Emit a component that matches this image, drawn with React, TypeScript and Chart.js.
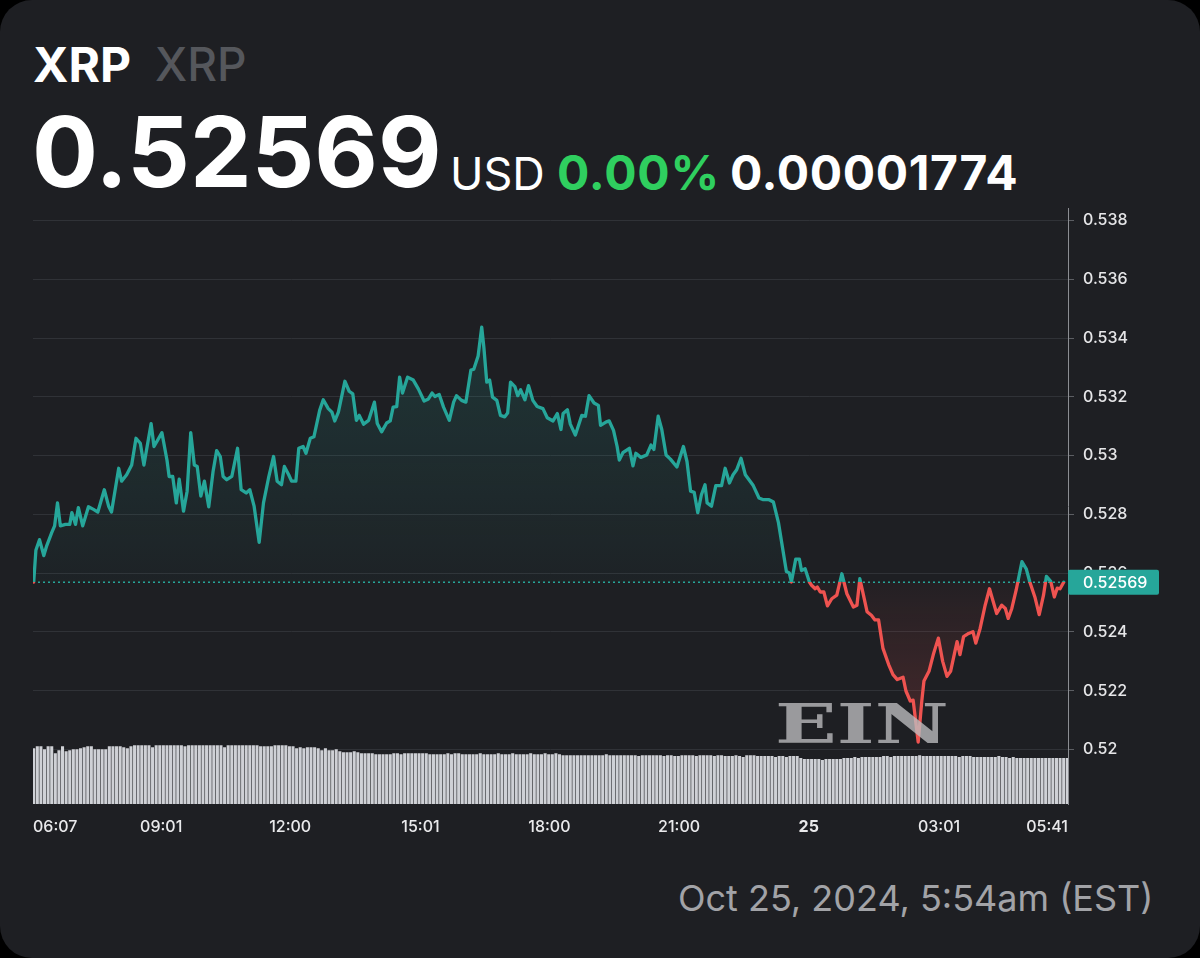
import { useEffect, useRef } from "react";
import { Chart, registerables } from "chart.js";

Chart.register(...registerables);

// ---- data (x = minutes since Oct 24 00:00, EST) ----
const TIMES = [
  364, 367, 372, 378, 382, 389, 393, 397, 401, 408, 414, 417, 422, 426, 432, 440, 447, 453, 462, 468,
  472, 482, 486, 493, 500, 506, 512, 517, 527, 531, 542, 549, 552, 557, 562, 566, 572, 577, 582, 587,
  591, 596, 601, 607, 613, 618, 623, 627, 632, 639, 647, 652, 659, 664, 670, 677, 683, 690, 697, 702,
  708, 712, 718, 722, 728, 732, 738, 742, 748, 753, 761, 766, 773, 778, 782, 787, 796, 802, 807, 812,
  816, 822, 829, 837, 841, 847, 854, 859, 863, 868, 872, 876, 883, 891, 898, 906, 912, 917, 921, 927,
  933, 941, 947, 951, 958, 964, 971, 975, 981, 986, 989, 993, 997, 1001, 1007, 1012, 1018, 1022, 1026, 1032,
  1036, 1040, 1046, 1051, 1057, 1063, 1071, 1077, 1085, 1091, 1096, 1099, 1105, 1109, 1116, 1125, 1130, 1135, 1142, 1148,
  1151, 1159, 1163, 1169, 1174, 1177, 1182, 1191, 1196, 1200, 1207, 1215, 1221, 1225, 1231, 1236, 1242, 1248, 1257, 1266,
  1271, 1276, 1281, 1286, 1291, 1296, 1299, 1305, 1311, 1319, 1324, 1330, 1335, 1340, 1346, 1352, 1363, 1371, 1377, 1385,
  1391, 1398, 1409, 1413, 1416, 1422, 1427, 1430, 1435, 1441, 1444, 1449, 1452, 1456, 1461, 1466, 1472, 1479, 1486, 1493,
  1502, 1507, 1511, 1516, 1521, 1527, 1532, 1537, 1543, 1551, 1557, 1563, 1571, 1575, 1581, 1585, 1592, 1597, 1600, 1607,
  1613, 1620, 1626, 1632, 1637, 1643, 1646, 1650, 1655, 1662, 1668, 1672, 1678, 1685, 1691, 1695, 1701, 1708, 1713, 1717,
  1722, 1728, 1736, 1742, 1747, 1754, 1760, 1766, 1770, 1776, 1781, 1785, 1789, 1794,
];

const PRICES = [
  0.5257, 0.52678, 0.52714, 0.5266, 0.52693, 0.52738, 0.52761, 0.52839, 0.52761, 0.52766, 0.52766, 0.52806, 0.52766, 0.52823, 0.52761, 0.52826, 0.52817, 0.52808, 0.52884, 0.52828,
  0.52808, 0.52957, 0.52913, 0.52935, 0.52968, 0.53059, 0.53042, 0.52968, 0.53109, 0.53031, 0.53078, 0.52985, 0.52929, 0.52929, 0.52839, 0.5292, 0.52811, 0.52879, 0.53078, 0.52968,
  0.52963, 0.52862, 0.52913, 0.52826, 0.52946, 0.53017, 0.52997, 0.52929, 0.52918, 0.52929, 0.53025, 0.52884, 0.52873, 0.52884, 0.52828, 0.52705, 0.52839, 0.52924, 0.52997, 0.52913,
  0.52901, 0.52963, 0.52935, 0.52913, 0.52913, 0.53025, 0.53031, 0.53008, 0.53059, 0.53064, 0.53154, 0.5319, 0.5316, 0.53148, 0.53118, 0.53148, 0.53253, 0.53219, 0.5321, 0.5312,
  0.53137, 0.53107, 0.5312, 0.53182, 0.53109, 0.53081, 0.53111, 0.53118, 0.53165, 0.53167, 0.53267, 0.53213, 0.53267, 0.53257, 0.53227, 0.53186, 0.53193, 0.53213, 0.53201, 0.53208,
  0.53165, 0.5312, 0.53182, 0.53204, 0.53188, 0.53182, 0.53291, 0.53294, 0.53339, 0.53437, 0.53368, 0.5325, 0.53257, 0.53199, 0.53188, 0.53137, 0.53132, 0.53145, 0.5325, 0.53235,
  0.53204, 0.53224, 0.5319, 0.53238, 0.53188, 0.53167, 0.5316, 0.53129, 0.53118, 0.53143, 0.53089, 0.53143, 0.53156, 0.53107, 0.5307, 0.53137, 0.53134, 0.53204, 0.53179, 0.53171,
  0.53103, 0.53115, 0.53118, 0.53086, 0.53031, 0.52985, 0.5301, 0.53025, 0.52965, 0.53008, 0.52994, 0.53002, 0.53036, 0.53021, 0.53134, 0.53089, 0.53002, 0.52988, 0.52961, 0.53031,
  0.5298, 0.52879, 0.52875, 0.52806, 0.52867, 0.52901, 0.52839, 0.52828, 0.52898, 0.52898, 0.52957, 0.52907, 0.52935, 0.52952, 0.52991, 0.52935, 0.52898, 0.52856, 0.5285, 0.5285,
  0.52842, 0.52772, 0.52606, 0.52601, 0.5257, 0.52648, 0.52648, 0.52609, 0.52615, 0.5257, 0.52559, 0.52547, 0.52553, 0.52536, 0.52536, 0.52489, 0.52513, 0.52525, 0.52598, 0.5253,
  0.52485, 0.52491, 0.52581, 0.52525, 0.52469, 0.52457, 0.52441, 0.52441, 0.52345, 0.52289, 0.52255, 0.52238, 0.52246, 0.52199, 0.52165, 0.52168, 0.52025, 0.52165, 0.52233, 0.52266,
  0.52323, 0.52379, 0.523, 0.52249, 0.52266, 0.52334, 0.52367, 0.52323, 0.52384, 0.52395, 0.52401, 0.52362, 0.52412, 0.52491, 0.52547, 0.52513, 0.52463, 0.52491, 0.5248, 0.52446,
  0.5248, 0.52542, 0.52639, 0.52615, 0.5257, 0.52519, 0.52459, 0.52525, 0.52589, 0.52572, 0.52519, 0.52549, 0.52547, 0.52569,
];

// 5-minute volume bars (relative units)
const VOL_START = 364;
const VOL_STEP = 5;
const VOLUMES = [
  56, 58, 58, 55, 58, 58, 51, 54, 58, 53, 54, 55,
  55, 56, 57, 58, 58, 55, 55, 55, 55, 58, 58, 58,
  58, 57, 56, 58, 59, 59, 59, 59, 59, 57, 59, 59,
  59, 59, 59, 59, 59, 59, 58, 59, 59, 59, 59, 59,
  59, 59, 59, 59, 59, 57, 59, 59, 59, 59, 59, 59,
  59, 59, 59, 58, 58, 58, 58, 59, 59, 59, 59, 58,
  58, 56, 57, 56, 57, 57, 57, 56, 54, 56, 54, 54,
  55, 53, 52, 52, 52, 53, 52, 51, 51, 51, 51, 50,
  50, 50, 50, 50, 51, 51, 50, 51, 51, 51, 51, 51,
  51, 51, 50, 50, 50, 50, 50, 51, 50, 51, 51, 50,
  50, 50, 50, 50, 51, 50, 50, 50, 50, 51, 50, 50,
  50, 51, 50, 50, 50, 50, 51, 50, 50, 50, 51, 50,
  50, 51, 50, 49, 49, 49, 49, 49, 49, 49, 49, 49,
  49, 49, 49, 50, 49, 49, 49, 49, 49, 49, 49, 49,
  48, 49, 49, 49, 49, 49, 49, 48, 49, 49, 48, 48,
  49, 49, 49, 49, 48, 49, 49, 49, 49, 48, 49, 49,
  48, 48, 48, 49, 48, 47, 49, 49, 49, 48, 48, 48,
  48, 48, 47, 48, 48, 47, 48, 48, 48, 46, 45, 45,
  45, 45, 45, 44, 45, 45, 45, 45, 45, 46, 46, 46,
  47, 46, 47, 47, 47, 47, 47, 47, 48, 48, 47, 48,
  48, 48, 48, 48, 48, 48, 49, 48, 48, 48, 48, 48,
  48, 48, 48, 48, 48, 47, 48, 48, 48, 47, 47, 47,
  47, 47, 47, 47, 48, 47, 47, 46, 47, 46, 46, 46,
  46, 46, 46, 46, 46, 46, 46, 46, 46, 46, 46, 46,
];

const BASE = 0.52569;
const Y_TICKS = [0.52, 0.522, 0.524, 0.526, 0.528, 0.53, 0.532, 0.534, 0.536, 0.538];
const X_TICKS = [367, 541, 720, 901, 1080, 1260, 1440, 1621, 1781];
const X_LABELS = ["06:07", "09:01", "12:00", "15:01", "18:00", "21:00", "25", "03:01", "05:41"];

const BG = "#1e1f23";
const TEAL = "rgba(38,166,154,1)";
const RED = "rgba(239,83,80,1)";
const FONT = "Inter, 'Noto Sans', sans-serif";

const overlayPlugin = {
  id: "overlay",
  afterDraw(chart: any) {
    const { ctx, chartArea, scales } = chart;
    const xs = scales.x;
    ctx.save();
    ctx.textBaseline = "middle";
    ctx.textAlign = "left";
    X_TICKS.forEach((t, i) => {
      const label = X_LABELS[i];
      ctx.font = `${label === "25" ? 700 : 500} 16px ${FONT}`;
      const w = ctx.measureText(label).width;
      let left = xs.getPixelForValue(t) - w / 2;
      left = Math.max(chartArea.left, Math.min(left, chartArea.right - w));
      ctx.fillStyle = "#e9e9eb";
      ctx.fillText(label, left, chartArea.bottom + 23);
    });
    const y = scales.y.getPixelForValue(BASE);
    ctx.fillStyle = TEAL;
    ctx.beginPath();
    ctx.roundRect(chartArea.right, y - 12.5, 91, 25, 2);
    ctx.fill();
    ctx.fillStyle = "#ffffff";
    ctx.font = `500 16px ${FONT}`;
    ctx.fillText(BASE.toFixed(5), chartArea.right + 15, y + 1);
    ctx.restore();
  },
};

function splitColor(ctx: any) {
  const chart = ctx.chart;
  const { chartArea, scales } = chart;
  if (!chartArea) return TEAL;
  const y = scales.y.getPixelForValue(BASE);
  let r = (y - chartArea.top) / (chartArea.bottom - chartArea.top);
  r = Math.min(1, Math.max(0, r));
  const g = chart.ctx.createLinearGradient(0, chartArea.top, 0, chartArea.bottom);
  g.addColorStop(0, TEAL);
  g.addColorStop(r, TEAL);
  g.addColorStop(r, RED);
  g.addColorStop(1, RED);
  return g;
}

function PriceChart() {
  const ref = useRef<HTMLCanvasElement | null>(null);
  useEffect(() => {
    if (!ref.current) return;
    Chart.defaults.font.family = FONT;
    const chart = new Chart(ref.current, {
      type: "line",
      data: {
        datasets: [
          {
            type: "line",
            label: "XRP",
            data: TIMES.map((t, i) => ({ x: t, y: PRICES[i] })),
            borderColor: splitColor,
            borderWidth: 3.3,
            borderJoinStyle: "round",
            borderCapStyle: "round",
            pointRadius: 0,
            tension: 0,
            fill: false,
            order: 0,
            yAxisID: "y",
          },
          {
            type: "line",
            label: "base",
            data: [
              { x: 363, y: BASE },
              { x: 1800, y: BASE },
            ],
            borderColor: TEAL,
            borderWidth: 1.5,
            borderDash: [2, 3],
            pointRadius: 0,
            fill: false,
            order: 1,
            yAxisID: "y",
          },
          {
            type: "bar",
            label: "volume",
            data: VOLUMES.map((v, i) => ({ x: VOL_START + i * VOL_STEP, y: v })),
            backgroundColor: "#cfd1d6",
            barThickness: 2.4,
            order: 2,
            yAxisID: "yv",
          },
        ] as any,
      },
      options: {
        responsive: false,
        animation: false,
        parsing: true,
        layout: { padding: { left: 33, top: 13, right: 0, bottom: 46 } },
        plugins: { legend: { display: false }, tooltip: { enabled: false } },
        scales: {
          x: {
            type: "linear",
            min: 363,
            max: 1800,
            display: false,
            offset: false,
          },
          y: {
            type: "linear",
            position: "right",
            min: 0.518146,
            max: 0.538405,
            afterBuildTicks: (axis: any) => {
              axis.ticks = Y_TICKS.map((v) => ({ value: v }));
            },
            afterFit: (axis: any) => {
              axis.width = 132;
            },
            grid: {
              color: "#303237",
              lineWidth: 1,
              tickLength: 6,
              tickColor: "#5c5e63",
            },
            border: { display: true, color: "#8b8d92", width: 1 },
            ticks: {
              autoSkip: false,
              padding: 9,
              color: "#e6e6e8",
              font: { size: 16, weight: 500 },
              callback: (v: any) => String(parseFloat(Number(v).toFixed(3))),
            },
          },
          yv: {
            type: "linear",
            display: false,
            min: 0,
            max: 601,
          },
        },
      } as any,
      plugins: [overlayPlugin],
    });
    const area = chart.chartArea;
    const yb = chart.scales.y.getPixelForValue(BASE);
    const c = chart.ctx;
    const above = c.createLinearGradient(0, area.top + 100, 0, yb);
    above.addColorStop(0, "rgba(38,166,154,0.18)");
    above.addColorStop(1, "rgba(38,166,154,0.03)");
    const below = c.createLinearGradient(0, yb, 0, area.bottom - 60);
    below.addColorStop(0, "rgba(239,83,80,0.03)");
    below.addColorStop(1, "rgba(239,83,80,0.2)");
    (chart.data.datasets[0] as any).fill = { target: { value: BASE }, above, below };
    chart.update();
    return () => chart.destroy();
  }, []);
  return (
    <canvas
      ref={ref}
      width={1200}
      height={660}
      style={{ position: "absolute", left: 0, top: 190, width: 1200, height: 660 }}
    />
  );
}

function Txt(props: {
  left: number;
  top: number;
  size: number;
  weight: number;
  color: string;
  spacing?: number;
  children: string;
}) {
  return (
    <div
      style={{
        position: "absolute",
        left: props.left,
        top: props.top,
        fontSize: props.size,
        fontWeight: props.weight,
        color: props.color,
        fontFamily: FONT,
        lineHeight: 1,
        letterSpacing: props.spacing ?? 0,
        whiteSpace: "nowrap",
      }}
    >
      {props.children}
    </div>
  );
}

export default function App() {
  return (
    <div
      style={{
        position: "absolute",
        left: 0,
        top: 0,
        width: 1200,
        height: 958,
        background: "#000",
        overflow: "hidden",
      }}
    >
      <div
        style={{ position: "absolute", left: 0, top: 0, width: 1200, height: 958, background: BG, borderRadius: 32 }}
      />
      <Txt left={33} top={41} size={48} weight={700} color="#ffffff">XRP</Txt>
      <Txt left={155} top={41} size={46} weight={500} color="#55575c">XRP</Txt>
      <Txt left={32} top={103} size={98} weight={700} color="#ffffff">0.52569</Txt>
      <Txt left={450} top={151} size={45} weight={400} color="#ffffff">USD</Txt>
      <Txt left={557} top={149} size={48} weight={700} color="#2fcf5f" spacing={0.8}>0.00%</Txt>
      <Txt left={730} top={149} size={48} weight={700} color="#ffffff" spacing={0.6}>0.00001774</Txt>
      <PriceChart />
      <div
        style={{
          position: "absolute",
          left: 775,
          top: 697,
          fontFamily: "'DejaVu Serif', serif",
          fontWeight: 700,
          fontSize: 54,
          lineHeight: 1,
          color: "rgba(190,190,192,0.78)",
          transform: "scaleX(1.5)",
          transformOrigin: "left top",
          whiteSpace: "nowrap",
        }}
      >
        EIN
      </div>
      <Txt left={678} top={880} size={36} weight={400} color="#a2a3a7">Oct 25, 2024, 5:54am (EST)</Txt>
    </div>
  );
}
